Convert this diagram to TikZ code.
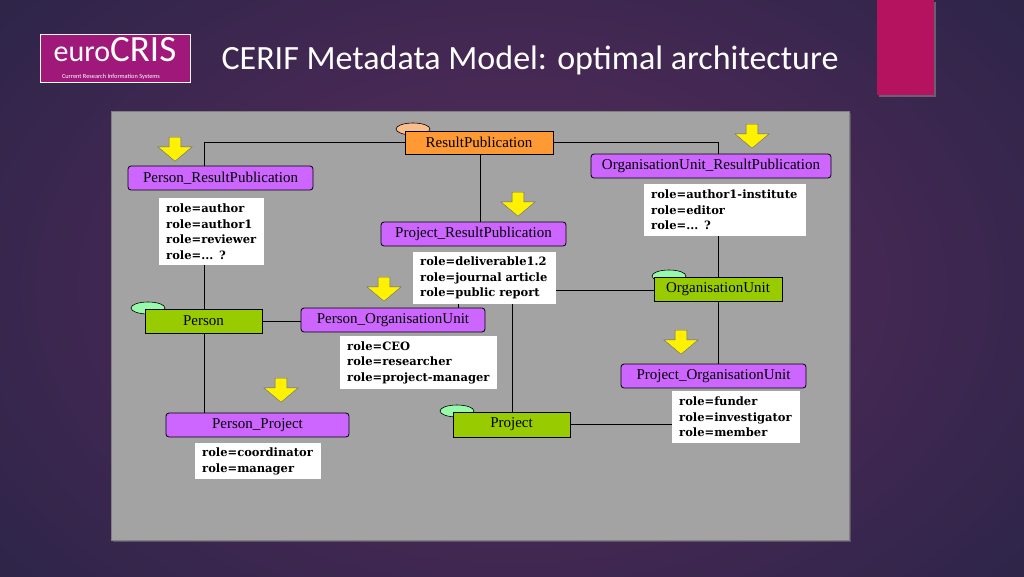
\documentclass[tikz,border=0pt]{standalone}
\usepackage{fontspec}
\setmainfont{Liberation Serif}
\newfontfamily\carl{Carlito}
\newfontfamily\dejs{DejaVu Serif}
\usetikzlibrary{shapes.arrows,shapes.geometric}
\definecolor{bgA}{HTML}{2A2447}
\definecolor{bgB}{HTML}{5C2C5E}
\definecolor{purp}{HTML}{CC66FF}
\definecolor{grn}{HTML}{99CC00}
\definecolor{org}{HTML}{FF9933}
\definecolor{panel}{HTML}{A3A3A3}
\definecolor{pinkbar}{HTML}{B5135F}
\definecolor{logoc}{HTML}{A0197A}
\definecolor{peach}{HTML}{FABE8C}
\definecolor{mint}{HTML}{96FAAA}
\begin{document}
\begin{tikzpicture}[x=1pt,y=-1pt,
 ent/.style={draw=black,line width=0.8pt,font=\fontsize{15}{17}\selectfont,inner sep=0pt},
 link/.style={ent,rounded corners=3pt,fill=purp},
 base/.style={ent,fill=grn},
 role/.style={fill=white,align=left,anchor=north west,font=\dejs\bfseries\fontsize{11.5}{15.5}\selectfont,inner xsep=7pt,inner ysep=3pt},
 ell/.style={draw=black,line width=0.6pt,fill=#1,ellipse,minimum width=34pt,minimum height=12pt},
 yarr/.style={fill=yellow,draw=black!60,line width=0.4pt},
 ln/.style={line width=1pt}]
\useasboundingbox (0,0) rectangle (1024,576);
\shade[inner color=bgB,outer color=bgA] (-200,-200) rectangle (1224,776);
\fill[black!40,opacity=0.5] (879,2) rectangle (936,97);
\fill[pinkbar] (877,0) rectangle (934,95);
\node[fill=logoc,draw=white!70,line width=0.5pt,minimum width=150pt,minimum height=48pt,inner sep=0pt] (logo) at (115,58) {};
\node[text=white,font=\carl\fontsize{30}{30}\selectfont] (logot) at (115,50) {euro\fontsize{37}{37}\selectfont CRIS};
\node[text=white,font=\carl\fontsize{6.3}{7}\selectfont,inner sep=0pt] (logos) at (111,76.5) {Current Research Information Systems};
\node[text=white,anchor=west,font=\carl\fontsize{34}{34}\selectfont] (title) at (218,60) {CERIF Metadata Model: optimal architecture};
\fill[black!50,opacity=0.5] (113,113) rectangle (851,542);
\draw[fill=panel,draw=black!50] (111,111) rectangle (849,540);
% lines
\coordinate (tl) at (204,142); \coordinate (tr) at (718,142);
\draw[ln] (tl)--(405,142) (553,142)--(tr)--(718,154);
\draw[ln] (tl)--(204,166) (204,265)--(204,309) (204,333)--(204,413);
\draw[ln] (480,154)--(480,222);
\draw[ln] (262,321)--(301,321);
\draw[ln] (512,304)--(512,412);
\draw[ln] (556,290)--(654,290);
\draw[ln] (718,236)--(718,277) (718,301)--(718,364);
\draw[ln] (570,424)--(672,424);
\draw[ln] (458,304)--(458,308);
% ellipses
\node[ell=peach] (e1) at (413,129) {};
\node[ell=mint] (e2) at (669,276) {};
\node[ell=mint] (e3) at (148,308) {};
\node[ell=mint] (e4) at (457,411) {};
% boxes
\node[ent,fill=org,minimum width=148pt,minimum height=23pt] (rp) at (479,142.5) {ResultPublication};
\node[link,minimum width=185pt,minimum height=24pt] (prp) at (220.5,178) {Person\_ResultPublication};
\node[link,minimum width=185pt,minimum height=24pt] (pjrp) at (473.5,234) {Project\_ResultPublication};
\node[link,minimum width=240pt,minimum height=24pt] (ourp) at (711,166) {OrganisationUnit\_ResultPublication};
\node[base,minimum width=128pt,minimum height=24pt] (ou) at (718,289) {OrganisationUnit};
\node[base,minimum width=117pt,minimum height=24pt] (pe) at (203.5,321) {Person};
\node[link,minimum width=184pt,minimum height=24pt] (pou) at (393,320) {Person\_OrganisationUnit};
\node[link,minimum width=185pt,minimum height=24pt] (pjou) at (713.5,376) {Project\_OrganisationUnit};
\node[link,minimum width=183pt,minimum height=24pt] (pp) at (257.5,425) {Person\_Project};
\node[base,minimum width=117pt,minimum height=25pt] (pj) at (511.5,424.5) {Project};
% role boxes
\node[role,text width=91pt,minimum height=67pt] (r1) at (159,198) {role=author\\role=author1\\role=reviewer\\role=... ?};
\node[role,text width=129pt,minimum height=52pt] (r2) at (413,252) {role=deliverable1.2\\role=journal article\\role=public report};
\node[role,text width=148pt,minimum height=52pt] (r3) at (644,184) {role=author1-institute\\role=editor\\role=... ?};
\node[role,text width=143pt,minimum height=53pt] (r4) at (340,336) {role=CEO\\role=researcher\\role=project-manager};
\node[role,text width=114pt,minimum height=52pt] (r5) at (672,391) {role=funder\\role=investigator\\role=member};
\node[role,text width=112pt,minimum height=36pt] (r6) at (195,443) {role=coordinator\\role=manager};
% yellow arrows
\foreach \n/\x/\y in {a1/175/137,a2/518/192,a3/752/124,a4/384/277,a5/681/330,a6/281/378}{
 \node[yarr,single arrow,shape border rotate=270,minimum height=24pt,minimum width=34pt,single arrow head extend=6pt,single arrow tip angle=100,inner sep=3pt,anchor=tail] (\n) at (\x,\y) {};
}
\end{tikzpicture}
\end{document}
